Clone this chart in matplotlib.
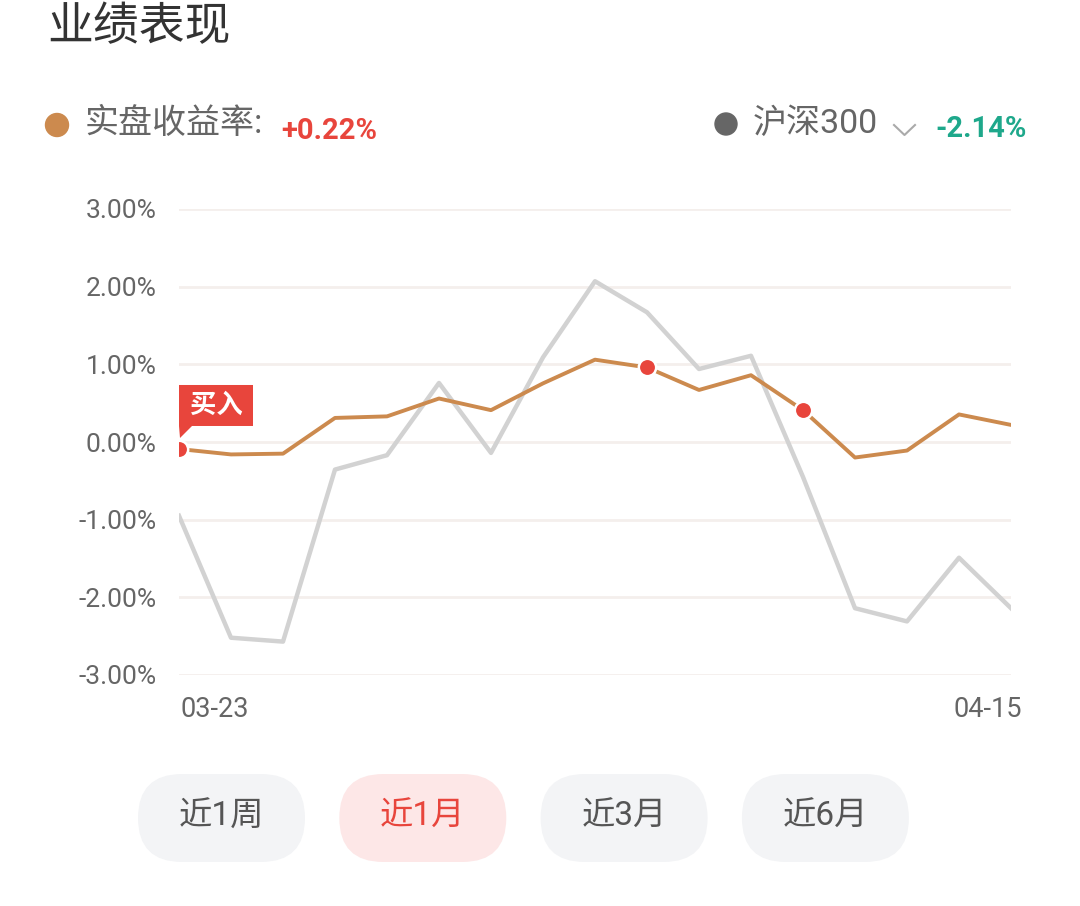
import matplotlib
matplotlib.use("Agg")
import matplotlib.pyplot as plt
import matplotlib.transforms as mtransforms
from matplotlib.patches import Circle, FancyBboxPatch, Polygon

plt.rcParams['font.family'] = ['Roboto', 'Noto Sans CJK SC', 'DejaVu Sans']

# data (daily returns in %)
dates = ['03-23', '03-24', '03-25', '03-26', '03-29', '03-30', '03-31', '04-01',
         '04-02', '04-06', '04-07', '04-08', '04-09', '04-12', '04-13', '04-14', '04-15']
strategy = [-0.09, -0.16, -0.15, 0.31, 0.33, 0.56, 0.41, 0.755, 1.06,
            0.96, 0.67, 0.86, 0.41, -0.20, -0.11, 0.355, 0.22]
hs300 = [-0.95, -2.52, -2.57, -0.355, -0.17, 0.76, -0.14, 1.09, 2.07,
         1.67, 0.94, 1.11, -0.45, -2.14, -2.31, -1.49, -2.14]
trade_idx = [0, 9, 12]
buy_idx = 0
yticks = [-3, -2, -1, 0, 1, 2, 3]
periods = ['近1周', '近1月', '近3月', '近6月']
selected = '近1月'

ORANGE = '#cc8a4e'
RED = '#e8453c'
TEAL = '#1ea88b'
GRAYTXT = '#666666'

W, H = 1080, 906
fig = plt.figure(figsize=(W / 100, H / 100), dpi=100)

# overlay axes in pixel units for the page furniture
bg = fig.add_axes([0, 0, 1, 1], zorder=0)
bg.set_xlim(0, W)
bg.set_ylim(H, 0)
bg.axis('off')

bg.text(47, 27, '业绩表现', fontsize=33, color='#333333', ha='left', va='center')

# legend row
bg.add_patch(Circle((57, 125), 11.5, color=ORANGE))
bg.text(85, 124, '实盘收益率:', fontsize=24.5, color=GRAYTXT, ha='left', va='center')
bg.text(281, 131, '{:+.2f}%'.format(strategy[-1]), fontsize=21, color=RED,
        fontweight='bold', ha='left', va='center')
bg.add_patch(Circle((726, 124), 11, color=GRAYTXT))
bg.text(753, 124, '沪深300', fontsize=24.5, color=GRAYTXT, ha='left', va='center')
bg.plot([894, 904.5, 915], [125, 135, 125], color='#aaaaaa', lw=1.5)
bg.text(935, 129, '{:+.2f}%'.format(hs300[-1]).replace('+', ''), fontsize=21,
        color=TEAL, fontweight='bold', ha='left', va='center')

# period buttons
for i, p in enumerate(periods):
    x0 = 138 + i * 201.3
    on = p == selected
    bg.add_patch(FancyBboxPatch((x0, 774), 167, 88,
                                boxstyle='round,pad=0,rounding_size=44',
                                fc='#fde7e7' if on else '#f3f4f6', ec='none'))
    bg.text(x0 + 83.5, 817, p, fontsize=24, color=RED if on else '#555555',
            ha='center', va='center')

# main chart
ax = fig.add_axes([179 / W, (H - 675) / H, (1011 - 179) / W, (675 - 209) / H], zorder=1)
ax.patch.set_alpha(0)
x = list(range(len(dates)))
ax.plot(x, hs300, color='#d2d2d2', lw=3.2, zorder=2)
ax.plot(x, strategy, color=ORANGE, lw=2.8, zorder=3)
ax.plot([x[i] for i in trade_idx], [strategy[i] for i in trade_idx], 'o',
        color=RED, ms=12.5, mec='white', mew=1.8, zorder=4)

ax.set_xlim(0, len(dates) - 1)
ax.set_ylim(-3, 3)
ax.set_yticks(yticks)
ax.set_yticklabels(['{:.2f}%'.format(v) for v in yticks])
ax.set_xticks([0, len(dates) - 1])
ax.set_xticklabels([dates[0], dates[-1]])
ax.grid(axis='y', color='#f4efec', lw=2)
ax.set_axisbelow(True)
for s in ax.spines.values():
    s.set_visible(False)
ax.tick_params(axis='y', length=0, pad=16, labelsize=19, labelcolor=GRAYTXT)
ax.tick_params(axis='x', length=0, pad=15, labelsize=19.5, labelcolor=GRAYTXT)

xl = ax.get_xticklabels()
xl[0].set_ha('left')
xl[0].set_transform(xl[0].get_transform() + mtransforms.ScaledTranslation(0.02, 0, fig.dpi_scale_trans))
xl[1].set_ha('right')
xl[1].set_transform(xl[1].get_transform() + mtransforms.ScaledTranslation(0.11, 0, fig.dpi_scale_trans))

# "买入" callout anchored at the buy point (offsets in pixels)
anchor = mtransforms.Affine2D().scale(1 / 100) + fig.dpi_scale_trans + \
    mtransforms.ScaledTranslation(x[buy_idx], strategy[buy_idx], ax.transData)
ax.add_patch(Polygon([(0, 64), (74, 64), (74, 23), (13, 23), (1, 11), (0, 23)],
                     closed=True, fc=RED, ec='none', transform=anchor,
                     clip_on=False, zorder=5))
ax.text(37, 44, '买入', transform=anchor, fontsize=19, color='white',
        ha='center', va='center', zorder=6, fontweight='bold',
        family=['Noto Sans CJK SC'])

fig.savefig('out.png', dpi=100)
